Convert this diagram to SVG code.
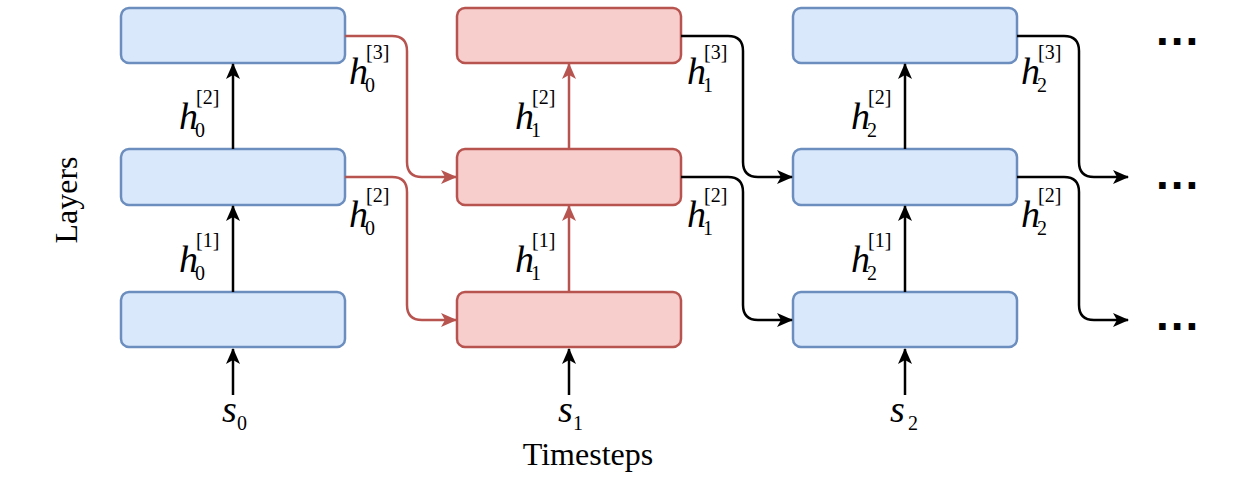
<svg xmlns="http://www.w3.org/2000/svg" width="1246" height="478" viewBox="0 0 1246 478">
<style>
.b{fill:#dae8fc;stroke:#6c8ebf;stroke-width:2.5}
.r{fill:#f8cecc;stroke:#b85450;stroke-width:2.5}
.k{fill:none;stroke:#000;stroke-width:2.5;marker-end:url(#ak)}
.kr{fill:none;stroke:#b85450;stroke-width:2.5;marker-end:url(#ar)}
text{font-family:"Liberation Serif","DejaVu Serif",serif;fill:#000}
.h{font-size:38px;font-style:italic}
.s{font-size:20px}
.d{font-family:"Liberation Sans",sans-serif;font-size:46px;font-weight:bold;letter-spacing:2px}
</style>
<defs>
<marker id="ak" markerWidth="16" markerHeight="14" refX="15" refY="7" orient="auto" markerUnits="userSpaceOnUse" viewBox="0 0 16 14"><path d="M0,0 L16,7 L0,14 L4,7 Z" fill="#000"/></marker>
<marker id="ar" markerWidth="16" markerHeight="14" refX="15" refY="7" orient="auto" markerUnits="userSpaceOnUse" viewBox="0 0 16 14"><path d="M0,0 L16,7 L0,14 L4,7 Z" fill="#b85450"/></marker>
</defs>
<g id="n00"><rect class="b" x="121" y="8" width="224" height="55" rx="8"/></g>
<g id="n01"><rect class="b" x="121" y="149" width="224" height="56" rx="8"/></g>
<g id="n02"><rect class="b" x="121" y="292" width="224" height="55" rx="8"/></g>
<g id="n10"><rect class="r" x="457" y="8" width="224" height="55" rx="8"/></g>
<g id="n11"><rect class="r" x="457" y="149" width="224" height="56" rx="8"/></g>
<g id="n12"><rect class="r" x="457" y="292" width="224" height="55" rx="8"/></g>
<g id="n20"><rect class="b" x="793" y="8" width="224" height="55" rx="8"/></g>
<g id="n21"><rect class="b" x="793" y="149" width="224" height="56" rx="8"/></g>
<g id="n22"><rect class="b" x="793" y="292" width="224" height="55" rx="8"/></g>
<g id="connectors">
<path class="k" d="M233,149 V64"/><path class="k" d="M233,292 V206"/><path class="k" d="M233,395 V349"/>
<path class="kr" d="M569,149 V64"/><path class="kr" d="M569,292 V206"/><path class="k" d="M569,395 V349"/>
<path class="k" d="M905,149 V64"/><path class="k" d="M905,292 V206"/><path class="k" d="M905,395 V349"/>
<path class="kr" d="M345,36 H392 Q407,36 407,51 V162 Q407,177 422,177 H456"/>
<path class="kr" d="M345,177 H392 Q407,177 407,192 V305 Q407,320 422,320 H456"/>
<path class="k" d="M681,36 H728 Q743,36 743,51 V162 Q743,177 758,177 H792"/>
<path class="k" d="M681,177 H728 Q743,177 743,192 V305 Q743,320 758,320 H792"/>
<path class="k" d="M1017,36 H1064 Q1079,36 1079,51 V162 Q1079,177 1094,177 H1128"/>
<path class="k" d="M1017,177 H1064 Q1079,177 1079,192 V305 Q1079,320 1094,320 H1128"/>
</g>
<g id="labels">
<text class="h" x="179" y="129">h</text><text class="s" x="195" y="137">0</text><text class="s" x="196" y="104">[2]</text>
<text class="h" x="179" y="272">h</text><text class="s" x="195" y="280">0</text><text class="s" x="196" y="247">[1]</text>
<text class="h" x="349" y="84">h</text><text class="s" x="365" y="92">0</text><text class="s" x="366" y="59">[3]</text>
<text class="h" x="349" y="227">h</text><text class="s" x="365" y="235">0</text><text class="s" x="366" y="202">[2]</text>
<text class="h" x="515" y="129">h</text><text class="s" x="531" y="137">1</text><text class="s" x="532" y="104">[2]</text>
<text class="h" x="515" y="272">h</text><text class="s" x="531" y="280">1</text><text class="s" x="532" y="247">[1]</text>
<text class="h" x="687" y="84">h</text><text class="s" x="703" y="92">1</text><text class="s" x="704" y="59">[3]</text>
<text class="h" x="687" y="227">h</text><text class="s" x="703" y="235">1</text><text class="s" x="704" y="202">[2]</text>
<text class="h" x="851" y="129">h</text><text class="s" x="867" y="137">2</text><text class="s" x="868" y="104">[2]</text>
<text class="h" x="851" y="272">h</text><text class="s" x="867" y="280">2</text><text class="s" x="868" y="247">[1]</text>
<text class="h" x="1021" y="84">h</text><text class="s" x="1037" y="92">2</text><text class="s" x="1038" y="59">[3]</text>
<text class="h" x="1021" y="227">h</text><text class="s" x="1037" y="235">2</text><text class="s" x="1038" y="202">[2]</text>
<text class="h" x="222" y="422">s</text><text class="s" x="237" y="430">0</text>
<text class="h" x="558" y="422">s</text><text class="s" x="573" y="430">1</text>
<text class="h" x="890" y="422">s</text><text class="s" x="908" y="430">2</text>
<text x="588" y="465" font-size="32" text-anchor="middle">Timesteps</text>
<text x="0" y="0" font-size="32" text-anchor="middle" transform="translate(77,200) rotate(-90)">Layers</text>
<text class="d" x="1156" y="45">...</text>
<text class="d" x="1156" y="189">...</text>
<text class="d" x="1156" y="330">...</text>
</g>
</svg>
